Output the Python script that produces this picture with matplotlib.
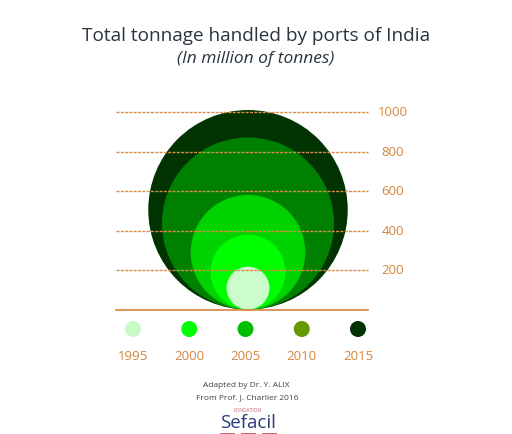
import matplotlib
matplotlib.use("Agg")
import matplotlib.pyplot as plt
from matplotlib.patches import Circle
from matplotlib.lines import Line2D

# ---- data ----
years = ["1995", "2000", "2005", "2010", "2015"]
tonnage = [217, 379, 580, 871, 1010]          # million tonnes (circle diameters)
circle_colors = ["#ccfccc", "#00ff00", "#00d400", "#008000", "#003300"]
legend_colors = ["#c8fac8", "#00ff00", "#00c000", "#669900", "#003300"]
grid_values = [200, 400, 600, 800, 1000]
grid_labels = ["200", "400", "600", "800", "1000"]

W, H = 512, 435
fig = plt.figure(figsize=(W / 100, H / 100), dpi=100)
fig.patch.set_facecolor("white")
plt.rcParams["font.family"] = ["Open Sans", "DejaVu Sans"]

orange = "#d4843c"
grid_orange = "#d88c48"

# main axes, equal scale in data units
s = 39.5 / 200.0          # px per unit
x0_px, y0_px = 248, 310.5
left_px, right_px, top_px, bot_px = 100, 420, 100, 320
ax = fig.add_axes([left_px / W, (H - bot_px) / H, (right_px - left_px) / W, (bot_px - top_px) / H])
ax.set_xlim(-(x0_px - left_px) / s, (right_px - x0_px) / s)
ax.set_ylim(-(bot_px - y0_px) / s, (y0_px - top_px) / s)
ax.axis("off")

# circles, largest first
order = sorted(range(len(tonnage)), key=lambda i: -tonnage[i])
for i in order:
    r = tonnage[i] / 2.0
    ax.add_patch(Circle((0, r), r, facecolor=circle_colors[i], edgecolor="none", zorder=1))

gx0, gx1 = (116 - x0_px) / s, (368 - x0_px) / s
for v, lab in zip(grid_values, grid_labels):
    ax.plot([gx0, gx1], [v, v], color=grid_orange, lw=1.0, ls=(0, (2.2, 0.9)), zorder=3)
    ax.text((393 - x0_px) / s, v, lab, color=orange, fontsize=9.5, ha="center", va="center")
ax.plot([gx0, gx1], [0, 0], color=orange, lw=1.2, zorder=3)

# legend axes
ax2 = fig.add_axes([0, (H - 370) / H, 1, 50 / H])
step = (358 - 133) / 4.0
ax2.set_xlim(-133 / step, (W - 133) / step)
ax2.set_ylim(370, 320)
ax2.axis("off")
xs = list(range(len(years)))
ax2.scatter(xs, [330] * len(years), s=(16 * 0.72) ** 2, c=legend_colors, edgecolors="none")
for x, y in zip(xs, years):
    ax2.text(x, 356, y, color=orange, fontsize=9.5, ha="center", va="center")

# titles
fig.text(256 / W, 1 - 36 / H, "Total tonnage handled by ports of India", ha="center", va="center",
         fontsize=13.7, color="#2a3440")
fig.text(255.5 / W, 1 - 59 / H, "(In million of tonnes)", ha="center", va="center",
         fontsize=12.5, style="italic", color="#2a3440")

# credits
fig.text(246 / W, 1 - 386 / H, "Adapted by Dr. Y. ALIX", ha="center", va="center", fontsize=6.0, color="#404040")
fig.text(247.5 / W, 1 - 397.5 / H, "From Prof. J. Charlier 2016", ha="center", va="center", fontsize=6.0, color="#404040")
fig.text(248 / W, 1 - 411 / H, "FONDATION", ha="center", va="center", fontsize=3.5, color="#c0607a")
fig.text(248 / W, 1 - 423 / H, "Sefacil", ha="center", va="center", fontsize=13.5, color="#2b3a7c")
for a, b in [(220, 234), (241, 255), (262, 276)]:
    fig.add_artist(Line2D([a / W, b / W], [1 - 433.5 / H, 1 - 433.5 / H], color="#c04060", lw=0.6))

fig.savefig("out.png", dpi=100, facecolor="white")
